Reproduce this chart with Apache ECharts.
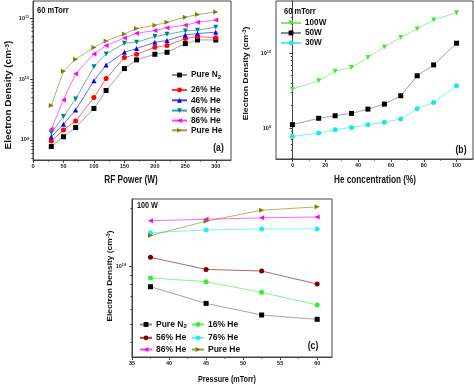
<!DOCTYPE html>
<html><head><meta charset="utf-8">
<script src="https://cdn.jsdelivr.net/npm/echarts@6/dist/echarts.min.js"></script>
<style>html,body{margin:0;padding:0;background:#fff}#c{width:474px;height:384px}</style>
</head><body><div id="c"></div>
<script>
// ---------- Panel (a): electron density vs RF power, 60 mTorr ----------
const aPower = [30, 50, 70, 100, 120, 150, 170, 200, 220, 250, 270, 300];
const aPureN2 = [7.8e8, 1.13e9, 1.6e9, 3.3e9, 6.5e9, 1.49e10, 2.07e10, 2.56e10, 2.76e10, 3.83e10, 4.4e10, 4.4e10];
const aHe26 = [9.6e8, 1.46e9, 2.05e9, 5.0e9, 1.02e10, 2.26e10, 2.56e10, 3.33e10, 3.55e10, 4.63e10, 5.0e10, 4.8e10];
const aHe46 = [1.13e9, 1.81e9, 3.11e9, 9.4e9, 1.71e10, 2.76e10, 3.17e10, 4.03e10, 4.3e10, 5.3e10, 5.6e10, 5.9e10];
const aHe66 = [1.32e9, 2.42e9, 4.72e9, 1.6e10, 2.59e10, 3.88e10, 4.03e10, 5.0e10, 5.46e10, 6.2e10, 6.35e10, 7.1e10];
const aHe86 = [1.5e9, 4.55e9, 1.23e10, 2.59e10, 3.55e10, 4.75e10, 5.67e10, 6.27e10, 7.0e10, 7.67e10, 8.6e10, 9.4e10];
const aPureHe = [3.67e9, 1.35e10, 2.12e10, 3.3e10, 4.24e10, 5.53e10, 6.77e10, 7.67e10, 8.6e10, 1.04e11, 1.15e11, 1.27e11];
const aXTicks = [0, 50, 100, 150, 200, 250, 300];
const aXMinor = [25, 75, 125, 175, 225, 275];
const aYTicks = [1e9, 1e10, 1e11];

// ---------- Panel (b): electron density vs He concentration ----------
const bHe = [0, 16, 26, 36, 46, 56, 66, 76, 86, 100];
const b100W = [3.31e9, 4.28e9, 5.75e9, 6.44e9, 8.75e9, 1.21e10, 1.62e10, 2.11e10, 2.78e10, 3.48e10];
const b50W = [1.11e9, 1.35e9, 1.46e9, 1.57e9, 1.79e9, 2.09e9, 2.7e9, 4.99e9, 6.98e9, 1.36e10];
const b30W = [7.74e8, 8.58e8, 9.5e8, 1.02e9, 1.11e9, 1.2e9, 1.32e9, 1.81e9, 2.2e9, 3.66e9];
const bXTicks = [0, 20, 40, 60, 80, 100];
const bXMinor = [10, 30, 50, 70, 90];
const bYTicks = [1e9, 1e10];

// ---------- Panel (c): electron density vs pressure, 100 W ----------
const cPressure = [37.5, 45, 52.5, 60];
const cPureN2 = [7.81e9, 6.4e9, 5.57e9, 5.29e9];
const cHe16 = [8.67e9, 8.3e9, 7.3e9, 6.28e9];
const cHe56 = [1.11e10, 9.61e9, 9.42e9, 8.07e9];
const cHe76 = [1.49e10, 1.54e10, 1.56e10, 1.56e10];
const cHe86 = [1.72e10, 1.75e10, 1.78e10, 1.8e10];
const cPureHe = [1.44e10, 1.71e10, 1.95e10, 2.03e10];
const cXTicks = [35, 40, 45, 50, 55, 60];
const cXMinor = [37.5, 42.5, 47.5, 52.5, 57.5];
const cYTicks = [1e10];

const FONT = '"Liberation Sans", Arial, sans-serif';
const AX = '#444';

function minorLog(min, max) {
  const out = [];
  for (let k = Math.floor(Math.log10(min)); k <= Math.ceil(Math.log10(max)); k++) {
    for (let m = 2; m <= 9; m++) { const v = m * Math.pow(10, k); if (v > min && v < max) out.push(v); }
  }
  return out;
}
const tickRich = {
  m: {fontSize: 5.5, fontWeight: 'bold', fontFamily: FONT, color: '#222'},
  e: {fontSize: 3.8, fontWeight: 'bold', fontFamily: FONT, color: '#222', verticalAlign: 'top'}
};
function decadeLabel(v) { return '{m|10}{e|' + Math.round(Math.log10(v)) + '}'; }

function xAxes(gi, min, max, majors, minors) {
  return [
    {type: 'value', gridIndex: gi, min, max, position: 'bottom',
     axisLine: {show: true, lineStyle: {color: AX, width: 1}},
     axisTick: {show: true, length: 3, customValues: majors, lineStyle: {color: AX}},
     axisLabel: {customValues: majors, fontSize: 5.5, fontWeight: 'bold', fontFamily: FONT, color: '#222', margin: 3},
     splitLine: {show: false}},
    {type: 'value', gridIndex: gi, min, max, position: 'bottom',
     axisLine: {show: false},
     axisTick: {show: true, length: 1.6, customValues: minors, lineStyle: {color: AX}},
     axisLabel: {show: false}, splitLine: {show: false}}
  ];
}
function yAxes(gi, min, max, majors, margin) {
  return [
    {type: 'log', logBase: 10, gridIndex: gi, min, max, position: 'left',
     axisLine: {show: true, lineStyle: {color: AX, width: 1}},
     axisTick: {show: true, length: 3, customValues: majors, lineStyle: {color: AX}},
     axisLabel: {customValues: majors, formatter: decadeLabel, rich: tickRich, margin},
     splitLine: {show: false}},
    {type: 'log', logBase: 10, gridIndex: gi, min, max, position: 'left',
     axisLine: {show: false},
     axisTick: {show: true, length: 1.6, customValues: minorLog(min, max), lineStyle: {color: AX}},
     axisLabel: {show: false}, splitLine: {show: false}}
  ];
}

const aY = [4.69e8, 1.92e11], bY = [3.86e8, 4.98e10], cY = [3.37e9, 2.23e10];

function ser(name, axisIdx, xs, ys, color, symbol, rot, lineColor) {
  return {
    name, type: 'line', xAxisIndex: axisIdx, yAxisIndex: axisIdx,
    data: xs.map((x, i) => [x, ys[i]]),
    symbol, symbolSize: 5, symbolRotate: rot || 0,
    itemStyle: {color},
    lineStyle: {color: lineColor || color, width: 0.8, opacity: 0.75},
    animation: false, silent: true
  };
}

const series = [
  ser('a:Pure N2', 0, aPower, aPureN2, '#000000', 'rect', 0, '#666'),
  ser('a:26% He', 0, aPower, aHe26, '#ff0000', 'circle'),
  ser('a:46% He', 0, aPower, aHe46, '#0000ff', 'triangle'),
  ser('a:66% He', 0, aPower, aHe66, '#008080', 'triangle', 180),
  ser('a:86% He', 0, aPower, aHe86, '#ff00ff', 'triangle', 90),
  ser('a:Pure He', 0, aPower, aPureHe, '#808000', 'triangle', -90),
  ser('b:100W', 2, bHe, b100W, '#55e044', 'triangle', 180),
  ser('b:50W', 2, bHe, b50W, '#000000', 'rect', 0, '#666'),
  ser('b:30W', 2, bHe, b30W, '#22e4e4', 'circle'),
  ser('c:Pure N2', 4, cPressure, cPureN2, '#000000', 'rect', 0, '#666'),
  ser('c:16% He', 4, cPressure, cHe16, '#33ee33', 'circle'),
  ser('c:56% He', 4, cPressure, cHe56, '#7a0000', 'circle'),
  ser('c:76% He', 4, cPressure, cHe76, '#22eeee', 'circle'),
  ser('c:86% He', 4, cPressure, cHe86, '#ff00ff', 'triangle', 90),
  ser('c:Pure He', 4, cPressure, cPureHe, '#808000', 'triangle', -90)
];

function legendFmt(name) {
  const t = name.slice(2);
  if (t === 'Pure N2') return '{t|Pure N}{s|2}';
  return '{t|' + t + '}';
}
function mkLegend(name, left, cy, iw, fs) {
  return {
    data: [name], left, top: cy - 5, orient: 'vertical', padding: 0, itemGap: 0,
    itemWidth: iw, itemHeight: 6, selectedMode: false, formatter: legendFmt,
    textStyle: {
      padding: [0, 0, 0, -1],
      rich: {
        t: {fontSize: fs, fontWeight: 'bold', fontFamily: FONT, color: '#111', lineHeight: 10},
        s: {fontSize: fs * 0.72, fontWeight: 'bold', fontFamily: FONT, color: '#111', lineHeight: 10, verticalAlign: 'bottom', padding: [3, 0, 0, 0]}
      }
    }
  };
}
const legends = [
  mkLegend('a:Pure N2', 171, 76, 15, 8.3),
  mkLegend('a:26% He', 171, 91, 15, 8.3),
  mkLegend('a:46% He', 171, 101.3, 15, 8.3),
  mkLegend('a:66% He', 171, 111.6, 15, 8.3),
  mkLegend('a:86% He', 171, 121.6, 15, 8.3),
  mkLegend('a:Pure He', 171, 131.3, 15, 8.3),
  mkLegend('b:100W', 280, 24, 20, 8.2),
  mkLegend('b:50W', 280, 34, 20, 8.2),
  mkLegend('b:30W', 280, 44, 20, 8.2),
  mkLegend('c:Pure N2', 139, 325, 12, 8.5),
  mkLegend('c:56% He', 139, 338.3, 12, 8.5),
  mkLegend('c:86% He', 139, 350, 12, 8.5),
  mkLegend('c:16% He', 191, 325, 12, 8.5),
  mkLegend('c:76% He', 191, 338.3, 12, 8.5),
  mkLegend('c:Pure He', 191, 350, 12, 8.5)
];

function gtext(text, x, y, size, o) {
  o = o || {};
  const el = {
    type: 'text', x, y, rotation: o.rot || 0, z: 100,
    style: {
      text, fill: '#111', align: o.align || 'left', verticalAlign: 'middle',
      fontSize: size, fontWeight: 'bold', fontFamily: FONT
    }
  };
  if (o.rot) { el.scaleY = o.s || 0.82; } else { el.scaleX = o.s || 0.82; }
  if (o.rich) el.style.rich = o.rich;
  return el;
}
function yTitleRich(size) {
  return {
    t: {fontSize: size, fontWeight: 'bold', fontFamily: FONT, fill: '#111'},
    s: {fontSize: size * 0.68, fontWeight: 'bold', fontFamily: FONT, fill: '#111', verticalAlign: 'top'}
  };
}
const yTitle = '{t|Electron Density (cm}{s|-3}{t|)}';

const graphics = [
  gtext('60 mTorr', 37, 10, 9.2),
  gtext('60 mTorr', 284, 11, 9.2),
  gtext('100 W', 137, 205.5, 8.8),
  gtext('(a)', 218.5, 148, 10.5, {align: 'center'}),
  gtext('(b)', 461, 150, 10.5, {align: 'center'}),
  gtext('(c)', 313, 346, 10.5, {align: 'center'}),
  gtext('RF Power (W)', 131, 180, 10, {align: 'center'}),
  gtext('He concentration (%)', 375, 180, 10, {align: 'center'}),
  gtext('Pressure (mTorr)', 227, 379, 9.5, {align: 'center', s: 0.76}),
  gtext(yTitle, 8.5, 95, 10, {align: 'center', rot: Math.PI / 2, rich: yTitleRich(10)}),
  gtext(yTitle, 246, 73.5, 8.6, {align: 'center', rot: Math.PI / 2, rich: yTitleRich(8.6)}),
  gtext(yTitle, 110, 276, 8.4, {align: 'center', rot: Math.PI / 2, rich: yTitleRich(8.4)})
];

const option = {
  backgroundColor: '#fff',
  animation: false,
  grid: [
    {left: 33, top: 1, width: 198, height: 159, show: true, borderColor: AX, borderWidth: 1, backgroundColor: 'transparent'},
    {left: 276, top: 1, width: 197, height: 158, show: true, borderColor: AX, borderWidth: 1, backgroundColor: 'transparent'},
    {left: 132, top: 199, width: 200, height: 158, show: true, borderColor: AX, borderWidth: 1, backgroundColor: 'transparent'}
  ],
  xAxis: [].concat(
    xAxes(0, 0, 325, aXTicks, aXMinor),
    xAxes(1, -10, 110, bXTicks, bXMinor),
    xAxes(2, 35, 62, cXTicks, cXMinor)
  ),
  yAxis: [].concat(
    yAxes(0, aY[0], aY[1], aYTicks, 4),
    yAxes(1, bY[0], bY[1], bYTicks, 5),
    yAxes(2, cY[0], cY[1], cYTicks, 6)
  ),
  legend: legends,
  series,
  graphic: graphics
};
const chart = echarts.init(document.getElementById('c'), null, {renderer: 'canvas'});
chart.setOption(option);
</script>
</body></html>
